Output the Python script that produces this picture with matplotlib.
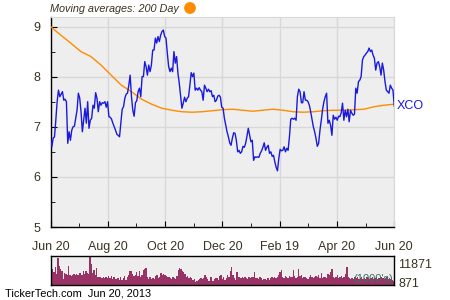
import numpy as np
import matplotlib
matplotlib.use("Agg")
import matplotlib.pyplot as plt
from matplotlib.patches import Circle

plt.rcParams['font.family'] = ['Liberation Sans', 'DejaVu Sans']

# ---------------- data ----------------
ticker = "XCO"
month_labels = ["Jun 20", "Aug 20", "Oct 20", "Dec 20", "Feb 19", "Apr 20", "Jun 20"]
footer = "TickerTech.com  Jun 20, 2013"
title = "Moving averages: 200 Day"
vol_tick_values = [871, 11871]
vol_tick_labels = ["11871", "871"]

price = [
    6.77, 6.60, 6.77, 6.80, 7.13, 7.50, 7.73, 7.60, 7.65, 7.70, 7.53, 7.55, 7.50, 6.67, 6.90, 6.73,
    6.93, 7.00, 7.01, 7.17, 7.33, 7.67, 7.57, 7.30, 6.90, 7.13, 7.37, 7.07, 7.50, 6.97, 7.13, 7.17,
    7.43, 7.37, 7.68, 7.57, 7.30, 7.50, 7.43, 7.48, 7.47, 7.50, 7.39, 7.50, 7.20, 7.19, 7.15, 7.07,
    7.00, 6.93, 6.85, 6.83, 6.80, 7.07, 7.35, 7.40, 7.57, 7.65, 7.67, 7.83, 8.03, 7.60, 7.33, 7.21,
    7.48, 7.52, 7.70,
    7.77, 7.60, 8.00, 8.00, 8.30, 8.20, 8.03, 8.23, 8.10, 8.23, 8.53, 8.53, 8.77, 8.67, 8.80, 8.70,
    8.83, 8.90, 8.93, 8.80, 8.77, 8.47, 8.20, 8.10, 8.17, 8.10, 8.50, 8.27, 8.40, 8.07, 7.87, 7.63,
    7.37, 7.47, 7.59, 7.50, 7.57, 7.60, 7.83, 8.08, 8.00, 8.07, 7.73, 7.77, 7.73, 7.78, 7.73, 7.70,
    7.53, 7.83, 7.77, 7.70, 7.75, 7.70, 7.72, 7.60, 7.63, 7.50, 7.53, 7.61, 7.63, 7.59, 7.39,
    7.37, 7.17, 7.03, 6.90, 6.80, 6.68, 6.63, 6.77, 6.88, 6.87, 6.73, 6.50, 6.53, 6.47, 6.50, 6.61,
    6.59, 6.67, 6.81, 6.97, 6.83, 6.70, 6.73, 6.33, 6.40, 6.39, 6.40, 6.39, 6.47, 6.52, 6.59, 6.68,
    6.53, 6.59, 6.63, 6.47, 6.50, 6.41, 6.43, 6.30, 6.19, 6.12, 6.37, 6.55, 6.52, 6.53, 6.60, 6.50,
    6.57, 6.53, 6.80, 7.15, 7.17, 7.15, 7.17, 7.13, 7.60, 7.75, 7.70, 7.48, 7.48,
    7.70, 7.53, 7.53, 7.50, 7.43, 7.30, 7.15, 7.00, 6.90, 6.77, 6.61, 6.67, 6.93, 7.13, 7.35, 7.50,
    7.60, 7.67, 7.07, 7.13, 7.03, 6.83, 7.23, 7.15, 7.19, 7.13, 7.21, 7.20, 7.28, 7.47, 7.13, 7.33,
    7.20, 7.35, 7.10, 7.33, 7.27, 7.23, 7.25, 7.77, 7.67, 7.90, 7.93, 8.00, 8.33, 8.40, 8.43, 8.47,
    8.50, 8.57, 8.50, 8.53, 8.43, 8.37, 8.13, 8.27, 8.30, 8.20, 8.03, 8.27, 8.13, 7.90, 7.73, 7.70,
    7.67, 7.83, 7.77, 7.73, 7.41,
]

ma200 = [
    9.00, 8.83, 8.67, 8.50, 8.40, 8.23, 8.03, 7.83, 7.70, 7.55, 7.45, 7.37, 7.33, 7.30, 7.29, 7.30,
    7.32, 7.34, 7.35, 7.33, 7.31, 7.33, 7.35, 7.33, 7.30, 7.29, 7.30, 7.32, 7.33, 7.33, 7.34, 7.35,
    7.40, 7.43, 7.45,
]

volume = [
    5580, 8520, 6560, 9500, 5580, 14980, 10480, 8520, 7540, 2640,
    5970, 5580, 5180, 10280, 5180, 4600, 5180, 5580, 5180, 5580,
    5180, 5970, 5970, 5180, 7140, 5580, 7540, 5970, 5580, 16360,
    11460, 5970, 7930, 5180, 9100, 4010, 3620, 3620, 3220, 3620,
    3220, 4010, 3220, 4600, 3220, 4400, 2640, 4010, 2440, 2830,
    3220, 2050, 4010, 2050, 3220, 4600, 2050, 3620, 5180, 7140,
    7140, 5580, 4600, 5180, 6560, 4600, 7540, 4010, 5180, 7930,
    8520, 9100, 3620, 2640, 4010, 2640, 3220, 2640, 4600, 5180,
    3220, 4010, 5970, 5180, 5580, 5180, 4600, 3620, 4010, 3220,
    2640, 3620, 3220, 2640, 4600, 7930, 9100, 8520, 7540, 6560,
    5580, 4010, 4600, 3220, 3620, 3220, 2050, 2440, 680, 1660,
    2050, 2640, 3220, 2640, 3220, 5180, 3620, 2640, 1260, 3620,
    4010, 1660, 2640, 3220, 3220, 2050, 4600, 5180,
    2640, 3620, 2050, 3220, 5180, 3620, 7140, 9890, 5180, 3220,
    2050, 6560, 3620, 4010, 3220, 3620, 3220, 3620, 3220, 2640,
    4010, 3220, 3620, 4010, 6560, 3220, 3220, 2830, 3620, 3220,
    2050, 2640, 2640, 2050, 3220, 2050, 3220, 3620, 3220, 4010,
    3220, 3620, 5180, 6560, 7930, 4010, 3220, 4600, 3620, 3220,
    4400, 3620, 4010, 7930, 4600, 3220, 3620, 8520, 4600, 5180,
    3220, 4010, 3620, 3220, 2640, 3620, 5180, 4010, 3220, 3620,
    4600, 3620, 5180, 3220, 5970, 3220, 4010, 3620, 3220, 5580,
    5180, 6560, 8520, 4010, 3220, 4010, 5180, 3220, 3620, 4600,
    3220, 4010, 5580, 9890, 3620, 3220, 2640, 3220, 2640, 3620,
    3220, 3620, 2640, 3220, 3620, 2640, 3220, 2640, 3620, 3220,
    2640, 3220, 3620, 2640, 3220, 3620, 2640, 3220, 2640, 3620,
    3220, 2640, 3220, 3620, 2640, 3220, 2640, 2050, 1660,
]

# ---------------- style ----------------
BG = "#eeeeee"
GRID = "#d8d8d8"
TXT = "#3a3320"
BLUE = "#1a1adb"
ORANGE = "#ff8c00"
VOLC = "#993366"

fig = plt.figure(figsize=(4.5, 3.0), dpi=100)
fig.patch.set_facecolor("white")

# main price axes
ax = fig.add_axes([50.5 / 450, 1 - 227 / 300, (394.3 - 50.5) / 450, (227 - 17) / 300])
ax.set_facecolor(BG)
n_months = 12
xp = np.linspace(0, n_months, len(price))
xm = np.linspace(0, n_months, len(ma200))
ax.plot(xm, ma200, color=ORANGE, lw=1.0, zorder=3)
ax.plot(xp, price, color=BLUE, lw=1.0, zorder=4)

ax.set_xlim(0, n_months)
ax.set_ylim(5, 9.19)
ax.set_yticks([5, 6, 7, 8, 9])
ax.set_yticks([5.5, 6.5, 7.5, 8.5], minor=True)
ax.set_xticks(np.arange(0, n_months + 1, 2))
ax.set_xticklabels(month_labels)
ax.set_xticks(np.arange(0, n_months + 1, 1), minor=True)
ax.tick_params(axis="both", which="both", direction="in", colors="black",
               labelcolor=TXT, labelsize=9)
ax.tick_params(axis="y", which="major", length=4, pad=7)
ax.tick_params(axis="y", which="minor", length=3)
ax.tick_params(axis="x", which="major", length=4, pad=10)
ax.tick_params(axis="x", which="minor", length=3)
ax.grid(True, which="major", color=GRID, lw=1.0, zorder=0)
ax.set_axisbelow(True)
for s in ["top", "right"]:
    ax.spines[s].set_color(GRID)
for s in ["left", "bottom"]:
    ax.spines[s].set_color("black")
    ax.spines[s].set_linewidth(1.0)

ax.text(1.008, (price[-1] - 5) / 4.19, ticker, transform=ax.transAxes, color=BLUE,
        fontsize=9, va="center", ha="left")

# title
fig.text(50 / 450, 1 - 9 / 300, title, fontsize=7.8, style="italic", color=TXT,
         ha="left", va="center")
fig.patches.append(Circle((190, 300 - 8), 5.2, transform=None,
                          color=ORANGE, figure=fig))

# volume axes
av = fig.add_axes([50.5 / 450, 1 - 285 / 300, (394.3 - 50.5) / 450, (285 - 256.3) / 300])
av.set_facecolor(BG)
xv = np.linspace(0, n_months, len(volume), endpoint=False)
vlo, vhi = -890, 16000
av.bar(xv, np.array(volume) - vlo, bottom=vlo, width=n_months / len(volume) * 1.02,
       align="edge", color=VOLC, lw=0)
av.set_xlim(0, n_months)
av.set_ylim(vlo, vhi)
av.set_xticks([])
av.yaxis.tick_right()
av.set_yticks(sorted(vol_tick_values))
av.set_yticklabels(vol_tick_labels[::-1])
av.tick_params(axis="y", length=0, labelsize=9, labelcolor=TXT, pad=3)
for s in av.spines.values():
    s.set_color("black")
    s.set_linewidth(1.0)
av.text(0.995, 0.02, "(1000's)", transform=av.transAxes, ha="right", va="bottom",
        fontsize=8, color="#3c7060")

fig.text(5 / 450, 1 - 293 / 300, footer, fontsize=7.9, color="black", ha="left", va="center")

fig.savefig("out.png", dpi=100)
